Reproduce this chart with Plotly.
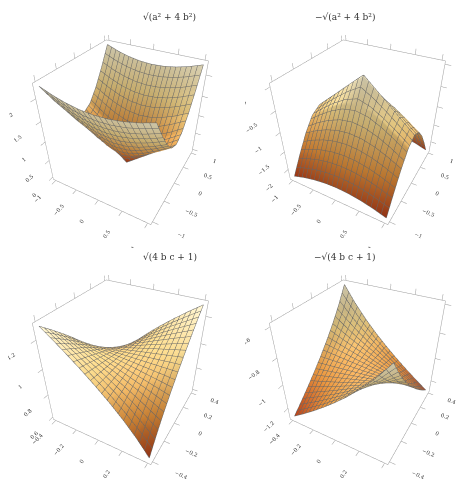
import plotly.graph_objects as go

# grid for the top pair
ab = [-1.0, -0.75, -0.5, -0.25, 0.0, 0.25, 0.5, 0.75, 1.0]
# rows: b, columns: a
z_top_left = [
    [2.236, 2.136, 2.062, 2.016, 2.000, 2.016, 2.062, 2.136, 2.236],
    [1.803, 1.677, 1.581, 1.521, 1.500, 1.521, 1.581, 1.677, 1.803],
    [1.414, 1.250, 1.118, 1.031, 1.000, 1.031, 1.118, 1.250, 1.414],
    [1.118, 0.901, 0.707, 0.559, 0.500, 0.559, 0.707, 0.901, 1.118],
    [1.000, 0.750, 0.500, 0.250, 0.000, 0.250, 0.500, 0.750, 1.000],
    [1.118, 0.901, 0.707, 0.559, 0.500, 0.559, 0.707, 0.901, 1.118],
    [1.414, 1.250, 1.118, 1.031, 1.000, 1.031, 1.118, 1.250, 1.414],
    [1.803, 1.677, 1.581, 1.521, 1.500, 1.521, 1.581, 1.677, 1.803],
    [2.236, 2.136, 2.062, 2.016, 2.000, 2.016, 2.062, 2.136, 2.236],
]
z_top_right = [
    [-2.236, -2.136, -2.062, -2.016, -2.000, -2.016, -2.062, -2.136, -2.236],
    [-1.803, -1.677, -1.581, -1.521, -1.500, -1.521, -1.581, -1.677, -1.803],
    [-1.414, -1.250, -1.118, -1.031, -1.000, -1.031, -1.118, -1.250, -1.414],
    [-1.118, -0.901, -0.707, -0.559, -0.500, -0.559, -0.707, -0.901, -1.118],
    [-1.000, -0.750, -0.500, -0.250, -0.000, -0.250, -0.500, -0.750, -1.000],
    [-1.118, -0.901, -0.707, -0.559, -0.500, -0.559, -0.707, -0.901, -1.118],
    [-1.414, -1.250, -1.118, -1.031, -1.000, -1.031, -1.118, -1.250, -1.414],
    [-1.803, -1.677, -1.581, -1.521, -1.500, -1.521, -1.581, -1.677, -1.803],
    [-2.236, -2.136, -2.062, -2.016, -2.000, -2.016, -2.062, -2.136, -2.236],
]

# grid for the bottom pair
bc = [-0.4, -0.3, -0.2, -0.1, 0.0, 0.1, 0.2, 0.3, 0.4]
# rows: c, columns: b
z_bot_left = [
    [1.281, 1.217, 1.149, 1.077, 1.0, 0.917, 0.825, 0.721, 0.600],
    [1.217, 1.166, 1.114, 1.058, 1.0, 0.938, 0.872, 0.800, 0.721],
    [1.149, 1.114, 1.077, 1.039, 1.0, 0.959, 0.917, 0.872, 0.825],
    [1.077, 1.058, 1.039, 1.020, 1.0, 0.980, 0.959, 0.938, 0.917],
    [1.0, 1.0, 1.0, 1.0, 1.0, 1.0, 1.0, 1.0, 1.0],
    [0.917, 0.938, 0.959, 0.980, 1.0, 1.020, 1.039, 1.058, 1.077],
    [0.825, 0.872, 0.917, 0.959, 1.0, 1.039, 1.077, 1.114, 1.149],
    [0.721, 0.800, 0.872, 0.938, 1.0, 1.058, 1.114, 1.166, 1.217],
    [0.600, 0.721, 0.825, 0.917, 1.0, 1.077, 1.149, 1.217, 1.281],
]
z_bot_right = [
    [-1.281, -1.217, -1.149, -1.077, -1.0, -0.917, -0.825, -0.721, -0.600],
    [-1.217, -1.166, -1.114, -1.058, -1.0, -0.938, -0.872, -0.800, -0.721],
    [-1.149, -1.114, -1.077, -1.039, -1.0, -0.959, -0.917, -0.872, -0.825],
    [-1.077, -1.058, -1.039, -1.020, -1.0, -0.980, -0.959, -0.938, -0.917],
    [-1.0, -1.0, -1.0, -1.0, -1.0, -1.0, -1.0, -1.0, -1.0],
    [-0.917, -0.938, -0.959, -0.980, -1.0, -1.020, -1.039, -1.058, -1.077],
    [-0.825, -0.872, -0.917, -0.959, -1.0, -1.039, -1.077, -1.114, -1.149],
    [-0.721, -0.800, -0.872, -0.938, -1.0, -1.058, -1.114, -1.166, -1.217],
    [-0.600, -0.721, -0.825, -0.917, -1.0, -1.077, -1.149, -1.217, -1.281],
]

panels = [
    (ab, z_top_left, "a", "√(a² + 4 b²)", 0.1, [0, 0.5], [0.5, 1]),
    (ab, z_top_right, "a", "−√(a² + 4 b²)", 0.1, [0.5, 1], [0.5, 1]),
    (bc, z_bot_left, "b", "√(4 b c + 1)", 0.04, [0, 0.5], [0, 0.5]),
    (bc, z_bot_right, "b", "−√(4 b c + 1)", 0.04, [0.5, 1], [0, 0.5]),
]

warm = [[0, "#b8401a"], [0.3, "#e8943c"], [0.65, "#f8d88a"], [1, "#fff6d4"]]

fig = go.Figure()
layout = {}
notes = []
for i, (g, z, xn, zn, step, dx, dy) in enumerate(panels):
    scene = "scene" if i == 0 else "scene{}".format(i + 1)
    line = dict(show=True, color="#666", width=1, start=g[0], end=g[-1], size=step)
    fig.add_trace(go.Surface(
        x=g, y=g, z=z, scene=scene, colorscale=warm, showscale=False,
        contours=dict(x=line, y=line),
        lighting=dict(ambient=0.8, diffuse=0.5, specular=0.05),
        hoverinfo="skip",
    ))
    ax = dict(showbackground=False, gridcolor="rgba(0,0,0,0)", showline=True,
              mirror="all", linecolor="#999", tickfont=dict(size=8, color="#333"),
              zeroline=False, ticks="outside", tickcolor="#999",
              dtick=0.5 if step == 0.1 else 0.2)
    layout[scene] = dict(
        domain=dict(x=dx, y=dy), aspectmode="cube",
        xaxis=dict(ax, title=dict(text=xn, font=dict(size=10))),
        yaxis=dict(ax, title=dict(text="")),
        zaxis=dict(ax, title=dict(text=""), dtick=None, nticks=6),
        camera=dict(eye=dict(x=1.0, y=-1.8, z=1.5), center=dict(x=0, y=0, z=-0.05)),
    )
    notes.append(dict(text=zn, x=dx[0] + 0.28, y=dy[1] - 0.005, xref="paper",
                      yref="paper", showarrow=False, yanchor="top",
                      font=dict(size=9, color="#333")))

fig.update_layout(width=474, height=479, margin=dict(l=0, r=0, t=0, b=0),
                  paper_bgcolor="white", font=dict(family="DejaVu Serif"),
                  annotations=notes, **layout)
fig.write_html("out.html")
